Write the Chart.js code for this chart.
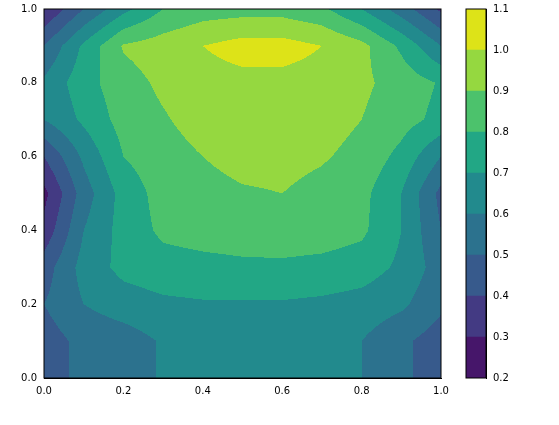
<!DOCTYPE html>
<html><head><meta charset="utf-8">
<script src="https://cdn.jsdelivr.net/npm/chart.js@4"></script>
<style>body{margin:0;background:#fff;width:559px;height:425px;position:relative;overflow:hidden}
#m{position:absolute;left:0;top:0}#c{position:absolute;left:455px;top:0}</style>
</head><body>
<div id="m" style="width:455px;height:425px"><canvas id="main"></canvas></div>
<div id="c" style="width:104px;height:425px"><canvas id="cbar"></canvas></div>
<script>
const gridX=[0,0.1,0.2,0.3,0.4,0.5,0.6,0.7,0.8,0.9,1.0];
const gridY=[0,0.1,0.2,0.3,0.4,0.5,0.6,0.7,0.8,0.9,1.0];
const row0=[0.45,0.53,0.55,0.61,0.65,0.65,0.65,0.65,0.6,0.52,0.45];
const row1=[0.45,0.53,0.55,0.61,0.65,0.65,0.65,0.65,0.6,0.52,0.45];
const row2=[0.5,0.6,0.65,0.68,0.69,0.69,0.69,0.68,0.66,0.62,0.52];
const row3=[0.45,0.64,0.73,0.76,0.77,0.78,0.78,0.77,0.75,0.68,0.55];
const row4=[0.33,0.6,0.74,0.82,0.84,0.85,0.86,0.85,0.82,0.7,0.5];
const row5=[0.27,0.55,0.74,0.84,0.87,0.89,0.9,0.87,0.83,0.7,0.47];
const row6=[0.4,0.62,0.8,0.86,0.9,0.93,0.93,0.91,0.87,0.77,0.6];
const row7=[0.6,0.72,0.84,0.89,0.94,0.96,0.96,0.94,0.9,0.84,0.77];
const row8=[0.62,0.76,0.86,0.92,0.96,0.97,0.97,0.96,0.92,0.86,0.79];
const row9=[0.5,0.72,0.91,0.95,1.0,1.04,1.04,1.0,0.93,0.78,0.6];
const row10=[0.3,0.5,0.67,0.8,0.85,0.86,0.86,0.82,0.7,0.55,0.38];
const levels=[0.2,0.3,0.4,0.5,0.6,0.7,0.8,0.9,1.0,1.1];
const bandColors=['#46166a','#433a83','#375a8c','#2c728e','#228a8d','#22a785','#4cc26c','#95d840','#dde318'];
const axisTicks=[0,0.2,0.4,0.6,0.8,1.0];
const rows=[row0,row1,row2,row3,row4,row5,row6,row7,row8,row9,row10];

function val(x,y){
  const n=gridX.length-1;
  let fx=Math.min(Math.max(x/(gridX[n]-gridX[0])*n,0),n-1e-9), fy=Math.min(Math.max(y/(gridY[n]-gridY[0])*n,0),n-1e-9);
  const i=Math.floor(fx), j=Math.floor(fy), tx=fx-i, ty=fy-j;
  const a=rows[j][i],b=rows[j][i+1],c=rows[j+1][i],d=rows[j+1][i+1];
  return (a*(1-tx)+b*tx)*(1-ty)+(c*(1-tx)+d*tx)*ty;
}
function hex(h){return [parseInt(h.slice(1,3),16),parseInt(h.slice(3,5),16),parseInt(h.slice(5,7),16)];}
const rgb=bandColors.map(hex);
const contour={id:'contour',beforeDatasetsDraw(chart){
  const {ctx,chartArea:a,scales:{x,y}}=chart;
  const dpr=chart.currentDevicePixelRatio;
  const W=Math.round((a.right-a.left)*dpr),H=Math.round((a.bottom-a.top)*dpr);
  const img=ctx.createImageData(W,H);
  for(let py=0;py<H;py++){const vy=y.getValueForPixel(a.top+(py+0.5)/dpr);
    for(let px=0;px<W;px++){const vx=x.getValueForPixel(a.left+(px+0.5)/dpr);
      const v=val(vx,vy);let k=0;while(k<levels.length-2&&v>=levels[k+1])k++;
      const c=rgb[k],o=(py*W+px)*4;img.data[o]=c[0];img.data[o+1]=c[1];img.data[o+2]=c[2];img.data[o+3]=255;}}
  ctx.putImageData(img,Math.round(a.left*dpr),Math.round(a.top*dpr));
}};
const font={family:'DejaVu Sans',size:10};
const tickOpts={color:'#000',font,autoSkip:false};
const frame={id:'frame',afterDraw(c){const {ctx,chartArea:a}=c;ctx.save();ctx.strokeStyle='#000';ctx.lineWidth=1;ctx.strokeRect(a.left,a.top,a.right-a.left,a.bottom-a.top);ctx.restore();}};
new Chart(document.getElementById('main'),{type:'scatter',data:{datasets:[{data:[]}]},
 options:{responsive:true,maintainAspectRatio:false,animation:false,
  layout:{padding:{top:9,right:14,left:0,bottom:0}},
  plugins:{legend:{display:false},tooltip:{enabled:false}},
  scales:{
   x:{min:0,max:1,afterBuildTicks:s=>{s.ticks=axisTicks.map(v=>({value:v}))},afterFit:s=>{s.height=47},
      ticks:{...tickOpts,callback:v=>v.toFixed(1),maxRotation:0},grid:{display:false,drawTicks:true,tickLength:4,tickColor:'#000'},border:{color:'#000'}},
   y:{min:0,max:1,afterBuildTicks:s=>{s.ticks=axisTicks.map(v=>({value:v}))},afterFit:s=>{s.width=44},
      ticks:{...tickOpts,callback:v=>v.toFixed(1)},grid:{display:false,drawTicks:true,tickLength:4,tickColor:'#000'},border:{color:'#000'}}
  }},plugins:[contour,frame]});

new Chart(document.getElementById('cbar'),{type:'bar',
 data:{labels:['c'],datasets:bandColors.map((col,i)=>({data:[[levels[i],levels[i+1]]],backgroundColor:col,borderWidth:0,barPercentage:1,categoryPercentage:1}))},
 options:{responsive:true,maintainAspectRatio:false,animation:false,
  layout:{padding:{top:9,left:11,right:0,bottom:47}},
  plugins:{legend:{display:false},tooltip:{enabled:false}},
  scales:{x:{display:false,stacked:true},
   y:{position:'right',stacked:false,min:0.2,max:1.1,afterBuildTicks:s=>{s.ticks=levels.map(v=>({value:v}))},afterFit:s=>{s.width=73},
      ticks:{...tickOpts,callback:v=>v.toFixed(1)},grid:{display:false,drawTicks:true,tickLength:4,tickColor:'#000'},border:{color:'#000'}}}},
 plugins:[frame]});
</script></body></html>
